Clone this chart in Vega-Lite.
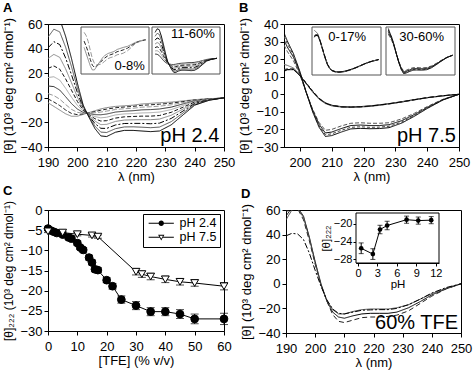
{
"$schema":"https://vega.github.io/schema/vega-lite/v6.json",
"background":"white",
"padding":{"left":2,"top":1,"right":0,"bottom":0},
"config":{
 "font":"Liberation Sans",
 "view":{"stroke":"black","strokeWidth":1},
 "axis":{"grid":false,"domainColor":"black","tickColor":"black","labelColor":"black","titleColor":"black","labelFontSize":13,"titleFontSize":13,"titleFontWeight":"normal","tickSize":4,"labelPadding":5,"titlePadding":1,"labelFlush":false,"labelFont":"Liberation Sans","titleFont":"Liberation Sans"},
 "title":{"anchor":"start","frame":"bounds","fontSize":13,"fontWeight":"bold","offset":2,"color":"black"},
 "legend":{"strokeColor":"black","padding":3,"labelFontSize":12.5,"symbolSize":36,"rowPadding":1,"fillColor":"white","labelColor":"black","labelOffset":12,"symbolOffset":9}
},
"datasets":{
 "specA":[
  {"x":190,"c0":-4,"c1":-0.9,"c2":3.4,"c3":9.6,"c4":16.5,"c5":23.9,"c6":32.0,"c7":40.6,"c8":49.3,"c9":58},
  {"x":192,"c0":-7,"c1":-3.4,"c2":1.8,"c3":9.1,"c4":17.1,"c5":25.9,"c6":35.3,"c7":45.6,"c8":55.8,"c9":66},
  {"x":194,"c0":-10,"c1":-6.3,"c2":-1.1,"c3":6.3,"c4":14.4,"c5":23.3,"c6":32.9,"c7":43.3,"c8":53.6,"c9":64},
  {"x":196,"c0":-13,"c1":-9.9,"c2":-5.4,"c3":0.9,"c4":7.8,"c5":15.4,"c6":23.5,"c7":32.4,"c8":41.2,"c9":50},
  {"x":198,"c0":-15,"c1":-12.7,"c2":-9.4,"c3":-4.7,"c4":0.5,"c5":6.2,"c6":12.3,"c7":18.8,"c8":25.4,"c9":32},
  {"x":200,"c0":-15,"c1":-13.7,"c2":-11.8,"c3":-9.1,"c4":-6.1,"c5":-2.9,"c6":0.7,"c7":4.4,"c8":8.2,"c9":12},
  {"x":202,"c0":-13.5,"c1":-13.1,"c2":-12.6,"c3":-11.9,"c4":-11.0,"c5":-10.1,"c6":-9.2,"c7":-8.1,"c8":-7.1,"c9":-6},
  {"x":204,"c0":-12,"c1":-12.2,"c2":-12.5,"c3":-12.9,"c4":-13.3,"c5":-13.8,"c6":-14.3,"c7":-14.9,"c8":-15.4,"c9":-16},
  {"x":206,"c0":-10.5,"c1":-11.2,"c2":-12.2,"c3":-13.7,"c4":-15.3,"c5":-17.0,"c6":-18.9,"c7":-20.9,"c8":-23.0,"c9":-25},
  {"x":208,"c0":-9,"c1":-10.1,"c2":-11.6,"c3":-13.8,"c4":-16.3,"c5":-18.9,"c6":-21.8,"c7":-24.8,"c8":-27.9,"c9":-31},
  {"x":210,"c0":-8,"c1":-9.2,"c2":-10.8,"c3":-13.2,"c4":-15.8,"c5":-18.6,"c6":-21.6,"c7":-24.9,"c8":-28.2,"c9":-31.5},
  {"x":213,"c0":-7,"c1":-8.1,"c2":-9.5,"c3":-11.6,"c4":-13.9,"c5":-16.5,"c6":-19.2,"c7":-22.1,"c8":-25.1,"c9":-28},
  {"x":216,"c0":-6.5,"c1":-7.5,"c2":-8.9,"c3":-10.9,"c4":-13.1,"c5":-15.5,"c6":-18.1,"c7":-20.9,"c8":-23.7,"c9":-26.5},
  {"x":219,"c0":-6,"c1":-7.0,"c2":-8.5,"c3":-10.5,"c4":-12.8,"c5":-15.2,"c6":-17.9,"c7":-20.8,"c8":-23.6,"c9":-26.5},
  {"x":222,"c0":-5,"c1":-6.1,"c2":-7.6,"c3":-9.8,"c4":-12.3,"c5":-14.9,"c6":-17.8,"c7":-20.8,"c8":-23.9,"c9":-27},
  {"x":225,"c0":-4.5,"c1":-5.7,"c2":-7.3,"c3":-9.6,"c4":-12.1,"c5":-14.9,"c6":-17.8,"c7":-21.1,"c8":-24.3,"c9":-27.5},
  {"x":228,"c0":-4,"c1":-5.2,"c2":-6.8,"c3":-9.1,"c4":-11.6,"c5":-14.4,"c6":-17.3,"c7":-20.6,"c8":-23.8,"c9":-27},
  {"x":232,"c0":-3.5,"c1":-4.4,"c2":-5.7,"c3":-7.6,"c4":-9.6,"c5":-11.8,"c6":-14.2,"c7":-16.8,"c8":-19.4,"c9":-22},
  {"x":236,"c0":-2.5,"c1":-3.1,"c2":-3.9,"c3":-5.0,"c4":-6.3,"c5":-7.7,"c6":-9.2,"c7":-10.8,"c8":-12.4,"c9":-14},
  {"x":240,"c0":-1.5,"c1":-1.7,"c2":-2.0,"c3":-2.5,"c4":-3.0,"c5":-3.5,"c6":-4.1,"c7":-4.7,"c8":-5.4,"c9":-6},
  {"x":245,"c0":-0.7,"c1":-0.8,"c2":-0.9,"c3":-1.0,"c4":-1.1,"c5":-1.3,"c6":-1.5,"c7":-1.6,"c8":-1.8,"c9":-2},
  {"x":250,"c0":-0.2,"c1":-0.2,"c2":-0.2,"c3":-0.2,"c4":-0.1,"c5":-0.1,"c6":0,"c7":0,"c8":0,"c9":0}
 ],
 "specB":[
  {"x":195,"b0":13,"b1":14,"b2":17,"b3":13.5,"h0":28,"h1":31,"h2":33,"h3":35},
  {"x":196,"b0":14,"b1":14.5,"b2":16.5,"b3":14,"h0":24.5,"h1":27,"h2":29,"h3":30.5},
  {"x":198,"b0":14,"b1":14.5,"b2":15,"b3":14.2,"h0":19,"h1":21,"h2":22,"h3":23},
  {"x":200,"b0":10.5,"b1":11,"b2":11,"b3":10.8,"h0":11,"h1":12,"h2":12.5,"h3":13},
  {"x":202,"b0":6,"b1":6.5,"b2":6,"b3":6.2,"h0":1,"h1":1,"h2":1,"h3":1},
  {"x":204,"b0":1.5,"b1":2,"b2":1.2,"b3":1.6,"h0":-8.5,"h1":-9,"h2":-9.5,"h3":-10},
  {"x":206,"b0":-2.5,"b1":-2.2,"b2":-2.8,"b3":-2.4,"h0":-16,"h1":-17,"h2":-18,"h3":-18.7},
  {"x":208,"b0":-5,"b1":-4.8,"b2":-5.3,"b3":-5,"h0":-20.5,"h1":-22,"h2":-23,"h3":-24},
  {"x":210,"b0":-6.3,"b1":-6.2,"b2":-6.6,"b3":-6.4,"h0":-20,"h1":-21.5,"h2":-22.5,"h3":-23.5},
  {"x":213,"b0":-7,"b1":-7.1,"b2":-7.3,"b3":-7.2,"h0":-18,"h1":-19.5,"h2":-20.5,"h3":-21.5},
  {"x":216,"b0":-7.2,"b1":-7.4,"b2":-7.5,"b3":-7.3,"h0":-16.5,"h1":-17.8,"h2":-18.8,"h3":-19.7},
  {"x":219,"b0":-7,"b1":-7.2,"b2":-7.3,"b3":-7.1,"h0":-16.2,"h1":-17.5,"h2":-18.5,"h3":-19.4},
  {"x":222,"b0":-6.6,"b1":-6.8,"b2":-6.9,"b3":-6.7,"h0":-16.5,"h1":-17.8,"h2":-18.8,"h3":-19.6},
  {"x":225,"b0":-6,"b1":-6.2,"b2":-6.3,"b3":-6.1,"h0":-16.5,"h1":-17.8,"h2":-18.7,"h3":-19.5},
  {"x":228,"b0":-5.3,"b1":-5.5,"b2":-5.5,"b3":-5.4,"h0":-16.2,"h1":-17.3,"h2":-18.2,"h3":-19},
  {"x":232,"b0":-4.2,"b1":-4.4,"b2":-4.4,"b3":-4.3,"h0":-14,"h1":-15,"h2":-15.8,"h3":-16.4},
  {"x":236,"b0":-3,"b1":-3.1,"b2":-3.2,"b3":-3.1,"h0":-10.8,"h1":-11.5,"h2":-12,"h3":-12.5},
  {"x":240,"b0":-1.9,"b1":-2,"b2":-2,"b3":-1.9,"h0":-7,"h1":-7.5,"h2":-7.8,"h3":-8.1},
  {"x":245,"b0":-0.8,"b1":-0.9,"b2":-0.9,"b3":-0.8,"h0":-2.8,"h1":-3,"h2":-3.1,"h3":-3.2},
  {"x":250,"b0":0,"b1":0,"b2":0,"b3":0,"h0":0,"h1":0,"h2":0,"h3":0}
 ],
 "specD":[
  {"x":190,"d1":55,"d2":58,"d3":52,"d4":39},
  {"x":192,"d1":62,"d2":63,"d3":60,"d4":41},
  {"x":194,"d1":62,"d2":61,"d3":61,"d4":40.5},
  {"x":196,"d1":55,"d2":52,"d3":54,"d4":36},
  {"x":198,"d1":38,"d2":35,"d3":37,"d4":25},
  {"x":200,"d1":18,"d2":16,"d3":17,"d4":11},
  {"x":202,"d1":0,"d2":-1,"d3":-1,"d4":-2},
  {"x":204,"d1":-14,"d2":-14,"d3":-13.5,"d4":-13},
  {"x":206,"d1":-23,"d2":-25,"d3":-21,"d4":-20.5},
  {"x":208,"d1":-27,"d2":-30.5,"d3":-24.5,"d4":-24},
  {"x":210,"d1":-28,"d2":-31.5,"d3":-24.5,"d4":-24.5},
  {"x":213,"d1":-26,"d2":-29.5,"d3":-22.5,"d4":-23},
  {"x":216,"d1":-24.5,"d2":-27.5,"d3":-21,"d4":-21.5},
  {"x":219,"d1":-24,"d2":-27,"d3":-20.5,"d4":-21.2},
  {"x":222,"d1":-24,"d2":-27,"d3":-20.5,"d4":-21},
  {"x":225,"d1":-24,"d2":-26.5,"d3":-20.5,"d4":-21},
  {"x":228,"d1":-23,"d2":-25.5,"d3":-19.5,"d4":-20},
  {"x":232,"d1":-19.5,"d2":-22,"d3":-17,"d4":-17},
  {"x":236,"d1":-14.5,"d2":-16,"d3":-12.5,"d4":-12.5},
  {"x":240,"d1":-9,"d2":-10,"d3":-8,"d4":-7.5},
  {"x":245,"d1":-4,"d2":-4,"d3":-3.5,"d4":-3},
  {"x":250,"d1":0,"d2":0,"d3":0,"d4":0}
 ],
 "tfe":[
  {"ph":"pH 2.4","tfe":0,"theta":-4.6,"err":0.3},
  {"ph":"pH 2.4","tfe":1,"theta":-5.1,"err":0.3},
  {"ph":"pH 2.4","tfe":2,"theta":-5.4,"err":0.3},
  {"ph":"pH 2.4","tfe":3,"theta":-5.7,"err":0.3},
  {"ph":"pH 2.4","tfe":5,"theta":-6.1,"err":0.3},
  {"ph":"pH 2.4","tfe":7,"theta":-6.8,"err":0.4},
  {"ph":"pH 2.4","tfe":8,"theta":-7.1,"err":0.4},
  {"ph":"pH 2.4","tfe":10,"theta":-8.2,"err":0.5},
  {"ph":"pH 2.4","tfe":11,"theta":-9.3,"err":0.5},
  {"ph":"pH 2.4","tfe":12,"theta":-9.9,"err":0.5},
  {"ph":"pH 2.4","tfe":14,"theta":-11.8,"err":0.6},
  {"ph":"pH 2.4","tfe":15,"theta":-13,"err":0.6},
  {"ph":"pH 2.4","tfe":16,"theta":-14.7,"err":0.6},
  {"ph":"pH 2.4","tfe":17,"theta":-14.9,"err":0.6},
  {"ph":"pH 2.4","tfe":20,"theta":-17.4,"err":0.6},
  {"ph":"pH 2.4","tfe":22,"theta":-18.9,"err":0.7},
  {"ph":"pH 2.4","tfe":25,"theta":-22.2,"err":0.9},
  {"ph":"pH 2.4","tfe":30,"theta":-23.7,"err":1.0},
  {"ph":"pH 2.4","tfe":35,"theta":-25.2,"err":1.0},
  {"ph":"pH 2.4","tfe":40,"theta":-25.2,"err":1.0},
  {"ph":"pH 2.4","tfe":45,"theta":-25.8,"err":1.1},
  {"ph":"pH 2.4","tfe":50,"theta":-27.0,"err":1.2},
  {"ph":"pH 2.4","tfe":60,"theta":-27.0,"err":1.4},
  {"ph":"pH 7.5","tfe":0,"theta":-5.3,"err":0.3},
  {"ph":"pH 7.5","tfe":5,"theta":-5.6,"err":0.3},
  {"ph":"pH 7.5","tfe":10,"theta":-6.0,"err":0.4},
  {"ph":"pH 7.5","tfe":15,"theta":-6.3,"err":0.4},
  {"ph":"pH 7.5","tfe":17,"theta":-6.6,"err":0.4},
  {"ph":"pH 7.5","tfe":30,"theta":-15.3,"err":0.8},
  {"ph":"pH 7.5","tfe":32,"theta":-15.9,"err":0.8},
  {"ph":"pH 7.5","tfe":35,"theta":-16.5,"err":0.8},
  {"ph":"pH 7.5","tfe":40,"theta":-17.2,"err":0.8},
  {"ph":"pH 7.5","tfe":45,"theta":-17.8,"err":0.8},
  {"ph":"pH 7.5","tfe":50,"theta":-18.1,"err":0.8},
  {"ph":"pH 7.5","tfe":60,"theta":-18.9,"err":0.9}
 ],
 "phD":[
  {"ph":0.5,"theta":-25.5,"err":1.2},
  {"ph":2.3,"theta":-26.8,"err":1.2},
  {"ph":3.4,"theta":-21.3,"err":0.95},
  {"ph":4.5,"theta":-20.4,"err":0.95},
  {"ph":7.5,"theta":-19.1,"err":0.8},
  {"ph":9.3,"theta":-19.3,"err":0.8},
  {"ph":11.3,"theta":-19.2,"err":0.8}
 ]
},
"spacing":0,
"resolve":{"scale":{"color":"independent","strokeDash":"independent","shape":"independent","fill":"independent"}},
"vconcat":[
 {"spacing":2,
  "resolve":{"scale":{"color":"independent","strokeDash":"independent","shape":"independent","fill":"independent"}},
  "hconcat":[
  {"title":"A","width":176,"height":123,
   "resolve":{"scale":{"x":"independent","y":"independent"}},
   "layer":[
    {"data":{"name":"specA"},
     "transform":[{"fold":["c0","c1","c2","c3","c4","c5","c6","c7","c8","c9"],"as":["k","v"]}],
     "mark":{"type":"line","strokeWidth":1,"clip":true},
     "encoding":{
      "x":{"field":"x","type":"quantitative","scale":{"domain":[190,250],"nice":false,"zero":false},"axis":{"values":[190,200,210,220,230,240,250],"title":"λ (nm)"}},
      "y":{"field":"v","type":"quantitative","scale":{"domain":[-40,60],"nice":false,"zero":false},"axis":{"values":[-40,-20,0,20,40,60],"title":"[θ] (10³ deg cm² dmol⁻¹)","labelPadding":2,"titlePadding":4}},
      "detail":{"field":"k"},
      "color":{"field":"k","type":"nominal","legend":null,"scale":{"domain":["c0","c1","c2","c3","c4","c5","c6","c7","c8","c9"],"range":["#888888","#222222","#999999","#333333","#aaaaaa","#111111","#888888","#000000","#555555","#000000"]}},
      "strokeDash":{"field":"k","type":"nominal","legend":null,"scale":{"domain":["c0","c1","c2","c3","c4","c5","c6","c7","c8","c9"],"range":[[1,0],[4,2],[5,2],[1,0],[1,0],[4,2],[1,0],[6,2,2,2],[1,0],[1,0]]}}
     }},
    {"data":{"values":[{}]},
     "mark":{"type":"text","text":"pH 2.4","align":"right","baseline":"alphabetic","fontSize":20,"color":"black"},
     "encoding":{
      "x":{"datum":248.4,"type":"quantitative","scale":{"domain":[190,250],"nice":false,"zero":false},"axis":null},
      "y":{"datum":-36,"type":"quantitative","scale":{"domain":[-40,60],"nice":false,"zero":false},"axis":null}
     }},
    {"layer":[
      {"data":{"values":[{}]},
       "mark":{"type":"rect","fill":"white","stroke":"#555555","strokeWidth":1},
       "encoding":{
        "x":{"datum":187,"type":"quantitative","scale":{"domain":[187,253],"range":[33,101],"nice":false,"zero":false},"axis":null},
        "x2":{"datum":253},
        "y":{"datum":-17,"type":"quantitative","scale":{"domain":[-17,6],"range":[50,3],"nice":false,"zero":false},"axis":null},
        "y2":{"datum":6}
       }},
      {"data":{"name":"specA"},
       "transform":[{"fold":["c0","c1","c2"],"as":["k","v"]}],
       "mark":{"type":"line","strokeWidth":1},
       "encoding":{
        "x":{"field":"x","type":"quantitative","scale":{"domain":[187,253],"range":[33,101],"nice":false,"zero":false},"axis":null},
        "y":{"field":"v","type":"quantitative","scale":{"domain":[-17,6],"range":[50,3],"nice":false,"zero":false},"axis":null},
        "detail":{"field":"k"},
        "color":{"field":"k","type":"nominal","legend":null},
        "strokeDash":{"field":"k","type":"nominal","legend":null}
       }},
      {"data":{"values":[{}]},
       "mark":{"type":"text","text":"0-8%","align":"right","baseline":"alphabetic","fontSize":13,"color":"black"},
       "encoding":{
        "x":{"datum":249,"type":"quantitative","scale":{"domain":[187,253],"range":[33,101],"nice":false,"zero":false},"axis":null},
        "y":{"datum":-15,"type":"quantitative","scale":{"domain":[-17,6],"range":[50,3],"nice":false,"zero":false},"axis":null}
       }}
    ]},
    {"layer":[
      {"data":{"values":[{}]},
       "mark":{"type":"rect","fill":"white","stroke":"#555555","strokeWidth":1},
       "encoding":{
        "x":{"datum":187,"type":"quantitative","scale":{"domain":[187,253],"range":[104,172],"nice":false,"zero":false},"axis":null},
        "x2":{"datum":253},
        "y":{"datum":-35,"type":"quantitative","scale":{"domain":[-35,70],"range":[50,3],"nice":false,"zero":false},"axis":null},
        "y2":{"datum":70}
       }},
      {"data":{"name":"specA"},
       "transform":[{"fold":["c3","c4","c5","c6","c7","c8","c9"],"as":["k","v"]}],
       "mark":{"type":"line","strokeWidth":1},
       "encoding":{
        "x":{"field":"x","type":"quantitative","scale":{"domain":[187,253],"range":[104,172],"nice":false,"zero":false},"axis":null},
        "y":{"field":"v","type":"quantitative","scale":{"domain":[-35,70],"range":[50,3],"nice":false,"zero":false},"axis":null},
        "detail":{"field":"k"},
        "color":{"field":"k","type":"nominal","legend":null},
        "strokeDash":{"field":"k","type":"nominal","legend":null}
       }},
      {"data":{"values":[{}]},
       "mark":{"type":"text","text":"11-60%","align":"right","baseline":"alphabetic","fontSize":13,"color":"black"},
       "encoding":{
        "x":{"datum":248,"type":"quantitative","scale":{"domain":[187,253],"range":[104,172],"nice":false,"zero":false},"axis":null},
        "y":{"datum":45,"type":"quantitative","scale":{"domain":[-35,70],"range":[50,3],"nice":false,"zero":false},"axis":null}
       }}
    ]}
   ]},
  {"title":"B","width":175,"height":123,
   "resolve":{"scale":{"x":"independent","y":"independent"}},
   "layer":[
    {"data":{"name":"specB"},
     "transform":[{"fold":["b0","b1","b2","b3","h0","h1","h2","h3"],"as":["k","v"]}],
     "mark":{"type":"line","strokeWidth":1,"clip":true},
     "encoding":{
      "x":{"field":"x","type":"quantitative","scale":{"domain":[195,250],"nice":false,"zero":false},"axis":{"values":[200,210,220,230,240,250],"title":"λ (nm)"}},
      "y":{"field":"v","type":"quantitative","scale":{"domain":[-30,40],"nice":false,"zero":false},"axis":{"values":[-30,-20,-10,0,10,20,30,40],"title":"[θ] (10³ deg cm² dmol⁻¹)","labelPadding":2,"titlePadding":4}},
      "detail":{"field":"k"},
      "color":{"field":"k","type":"nominal","legend":null,"scale":{"domain":["b0","b1","b2","b3","h0","h1","h2","h3"],"range":["#000000","#333333","#666666","#000000","#555555","#000000","#444444","#000000"]}},
      "strokeDash":{"field":"k","type":"nominal","legend":null,"scale":{"domain":["b0","b1","b2","b3","h0","h1","h2","h3"],"range":[[1,0],[4,2],[1,0],[6,2],[4,2],[1,0],[3,2],[1,0]]}}
     }},
    {"data":{"values":[{}]},
     "mark":{"type":"text","text":"pH 7.5","align":"right","baseline":"alphabetic","fontSize":20,"color":"black"},
     "encoding":{
      "x":{"datum":249,"type":"quantitative","scale":{"domain":[195,250],"nice":false,"zero":false},"axis":null},
      "y":{"datum":-27.1,"type":"quantitative","scale":{"domain":[-30,40],"nice":false,"zero":false},"axis":null}
     }},
    {"layer":[
      {"data":{"values":[{}]},
       "mark":{"type":"rect","fill":"white","stroke":"#555555","strokeWidth":1},
       "encoding":{
        "x":{"datum":193,"type":"quantitative","scale":{"domain":[193,252],"range":[28,97],"nice":false,"zero":false},"axis":null},
        "x2":{"datum":252},
        "y":{"datum":-9,"type":"quantitative","scale":{"domain":[-9,19],"range":[51,3],"nice":false,"zero":false},"axis":null},
        "y2":{"datum":19}
       }},
      {"data":{"name":"specB"},
       "transform":[{"fold":["b0","b1","b2","b3"],"as":["k","v"]}],
       "mark":{"type":"line","strokeWidth":1},
       "encoding":{
        "x":{"field":"x","type":"quantitative","scale":{"domain":[193,252],"range":[28,97],"nice":false,"zero":false},"axis":null},
        "y":{"field":"v","type":"quantitative","scale":{"domain":[-9,19],"range":[51,3],"nice":false,"zero":false},"axis":null},
        "detail":{"field":"k"},
        "color":{"field":"k","type":"nominal","legend":null},
        "strokeDash":{"field":"k","type":"nominal","legend":null}
       }},
      {"data":{"values":[{}]},
       "mark":{"type":"text","text":"0-17%","align":"left","baseline":"alphabetic","fontSize":13,"color":"black"},
       "encoding":{
        "x":{"datum":207,"type":"quantitative","scale":{"domain":[193,252],"range":[28,97],"nice":false,"zero":false},"axis":null},
        "y":{"datum":10.8,"type":"quantitative","scale":{"domain":[-9,19],"range":[51,3],"nice":false,"zero":false},"axis":null}
       }}
    ]},
    {"layer":[
      {"data":{"values":[{}]},
       "mark":{"type":"rect","fill":"white","stroke":"#555555","strokeWidth":1},
       "encoding":{
        "x":{"datum":193,"type":"quantitative","scale":{"domain":[193,252],"range":[102,171],"nice":false,"zero":false},"axis":null},
        "x2":{"datum":252},
        "y":{"datum":-26,"type":"quantitative","scale":{"domain":[-26,37],"range":[51,3],"nice":false,"zero":false},"axis":null},
        "y2":{"datum":37}
       }},
      {"data":{"name":"specB"},
       "transform":[{"fold":["h0","h1","h2","h3"],"as":["k","v"]}],
       "mark":{"type":"line","strokeWidth":1},
       "encoding":{
        "x":{"field":"x","type":"quantitative","scale":{"domain":[193,252],"range":[102,171],"nice":false,"zero":false},"axis":null},
        "y":{"field":"v","type":"quantitative","scale":{"domain":[-26,37],"range":[51,3],"nice":false,"zero":false},"axis":null},
        "detail":{"field":"k"},
        "color":{"field":"k","type":"nominal","legend":null},
        "strokeDash":{"field":"k","type":"nominal","legend":null}
       }},
      {"data":{"values":[{}]},
       "mark":{"type":"text","text":"30-60%","align":"left","baseline":"alphabetic","fontSize":13,"color":"black"},
       "encoding":{
        "x":{"datum":204.3,"type":"quantitative","scale":{"domain":[193,252],"range":[102,171],"nice":false,"zero":false},"axis":null},
        "y":{"datum":18.6,"type":"quantitative","scale":{"domain":[-26,37],"range":[51,3],"nice":false,"zero":false},"axis":null}
       }}
    ]}
   ]}
 ]},
 {"spacing":2,
  "resolve":{"scale":{"color":"independent","strokeDash":"independent","shape":"independent","fill":"independent"}},
  "hconcat":[
  {"title":"C","width":176,"height":121,
   "data":{"name":"tfe"},
   "resolve":{"scale":{"shape":"independent"}},
   "layer":[
    {"mark":{"type":"line","color":"black","strokeWidth":1},
     "encoding":{
      "x":{"field":"tfe","type":"quantitative","scale":{"domain":[0,60],"nice":false},"axis":{"values":[0,10,20,30,40,50,60],"title":"[TFE] (% v/v)"}},
      "y":{"field":"theta","type":"quantitative","scale":{"domain":[-30,0],"nice":false},"axis":{"values":[-30,-25,-20,-15,-10,-5,0],"title":"[θ]₂₂₂ (10³ deg cm² dmol⁻¹)","labelPadding":2,"titlePadding":4,"titleFontSize":12}},
      "detail":{"field":"ph"}
     }},
    {"mark":{"type":"errorbar","ticks":{"size":8,"color":"black"},"rule":{"color":"black","strokeWidth":1},"color":"black"},
     "encoding":{
      "x":{"field":"tfe","type":"quantitative","scale":{"domain":[0,60],"nice":false},"axis":{"values":[0,10,20,30,40,50,60],"title":"[TFE] (% v/v)"}},
      "y":{"field":"theta","type":"quantitative","scale":{"domain":[-30,0],"nice":false},"axis":{"values":[-30,-25,-20,-15,-10,-5,0],"title":"[θ]₂₂₂ (10³ deg cm² dmol⁻¹)","labelPadding":2,"titlePadding":4,"titleFontSize":12}},
      "yError":{"field":"err"}
     }},
    {"mark":{"type":"point","filled":true,"stroke":"black","strokeWidth":1,"size":60,"opacity":1},
     "encoding":{
      "x":{"field":"tfe","type":"quantitative","scale":{"domain":[0,60],"nice":false},"axis":{"values":[0,10,20,30,40,50,60],"title":"[TFE] (% v/v)"}},
      "y":{"field":"theta","type":"quantitative","scale":{"domain":[-30,0],"nice":false},"axis":{"values":[-30,-25,-20,-15,-10,-5,0],"title":"[θ]₂₂₂ (10³ deg cm² dmol⁻¹)","labelPadding":2,"titlePadding":4,"titleFontSize":12}},
      "shape":{"field":"ph","type":"nominal","scale":{"domain":["pH 2.4","pH 7.5"],"range":["circle","triangle-down"]},"legend":null},
      "fill":{"field":"ph","type":"nominal","scale":{"domain":["pH 2.4","pH 7.5"],"range":["black","white"]},"legend":null}
     }},
    {"mark":{"type":"point","filled":true,"fill":"black","strokeWidth":0,"size":36,"opacity":0},
     "encoding":{
      "x":{"field":"tfe","type":"quantitative","scale":{"domain":[0,60],"nice":false},"axis":{"values":[0,10,20,30,40,50,60],"title":"[TFE] (% v/v)"}},
      "y":{"field":"theta","type":"quantitative","scale":{"domain":[-30,0],"nice":false},"axis":{"values":[-30,-25,-20,-15,-10,-5,0],"title":"[θ]₂₂₂ (10³ deg cm² dmol⁻¹)","labelPadding":2,"titlePadding":4,"titleFontSize":12}},
      "shape":{"field":"ph","type":"nominal","scale":{"domain":["pH 2.4","pH 7.5"],"range":["M-4.2,-0.17H-0.8V0.17H-4.2Z M0.8,-0.17H4.2V0.17H0.8Z M0.9,0A0.9,0.9 0 1,1 -0.9,0A0.9,0.9 0 1,1 0.9,0Z","M-4.2,-0.17H-0.57V0.17H-4.2Z M0.57,-0.17H4.2V0.17H0.57Z M-1.05,-0.8L1.05,-0.8L0,1.05Z M-0.58,-0.5L0,0.5L0.58,-0.5Z"]},"legend":{"title":null,"orient":"top-right","offset":4,"symbolOpacity":1,"symbolFillColor":"black","symbolStrokeWidth":0,"symbolStrokeColor":"transparent"}}
     }}
   ]},
  {"title":"D","width":175,"height":123,
   "resolve":{"scale":{"x":"independent","y":"independent"}},
   "layer":[
    {"data":{"name":"specD"},
     "transform":[{"fold":["d1","d2","d3","d4"],"as":["k","v"]}],
     "mark":{"type":"line","strokeWidth":1,"clip":true},
     "encoding":{
      "x":{"field":"x","type":"quantitative","scale":{"domain":[190,250],"nice":false,"zero":false},"axis":{"values":[190,200,210,220,230,240,250],"title":"λ (nm)"}},
      "y":{"field":"v","type":"quantitative","scale":{"domain":[-40,60],"nice":false,"zero":false},"axis":{"values":[-40,-20,0,20,40,60],"title":"[θ] (10³ deg cm² dmol⁻¹)","labelPadding":2,"titlePadding":4}},
      "detail":{"field":"k"},
      "color":{"field":"k","type":"nominal","legend":null,"scale":{"domain":["d1","d2","d3","d4"],"range":["#000000","#222222","#444444","#000000"]}},
      "strokeDash":{"field":"k","type":"nominal","legend":null,"scale":{"domain":["d1","d2","d3","d4"],"range":[[1,0],[5,3],[1,0],[6,2,2,2]]}}
     }},
    {"data":{"values":[{}]},
     "mark":{"type":"text","text":"60% TFE","align":"right","baseline":"alphabetic","fontSize":20,"color":"black"},
     "encoding":{
      "x":{"datum":249,"type":"quantitative","scale":{"domain":[190,250],"nice":false,"zero":false},"axis":null},
      "y":{"datum":-36.5,"type":"quantitative","scale":{"domain":[-40,60],"nice":false,"zero":false},"axis":null}
     }},
    {"layer":[
      {"data":{"values":[{}]},
       "mark":{"type":"rect","fill":"white","stroke":"black","strokeWidth":1},
       "encoding":{
        "x":{"datum":-0.3,"type":"quantitative","scale":{"domain":[-0.3,12.5],"range":[70,153],"nice":false,"zero":false},"axis":{"orient":"bottom","offset":-70,"values":[0,3,6,9,12],"title":"pH","labelFontSize":11,"titleFontSize":11.5,"tickSize":3,"titlePadding":0,"labelPadding":1}},
        "x2":{"datum":12.5},
        "y":{"datum":-28.8,"type":"quantitative","scale":{"domain":[-28.8,-17.6],"range":[53,3],"nice":false,"zero":false},"axis":{"orient":"left","offset":-70,"values":[-28,-24,-20],"title":"[θ]₂₂₂","labelFontSize":11,"titleFontSize":11.5,"titleColor":"black","tickSize":3,"titlePadding":2,"labelPadding":1}},
        "y2":{"datum":-17.6}
       }},
      {"data":{"name":"phD"},
       "mark":{"type":"line","color":"black","strokeWidth":1},
       "encoding":{
        "x":{"field":"ph","type":"quantitative","scale":{"domain":[-0.3,12.5],"range":[70,153],"nice":false,"zero":false},"axis":{"orient":"bottom","offset":-70,"values":[0,3,6,9,12],"title":"pH","labelFontSize":11,"titleFontSize":11.5,"tickSize":3,"titlePadding":0,"labelPadding":1}},
        "y":{"field":"theta","type":"quantitative","scale":{"domain":[-28.8,-17.6],"range":[53,3],"nice":false,"zero":false},"axis":{"orient":"left","offset":-70,"values":[-28,-24,-20],"title":"[θ]₂₂₂","labelFontSize":11,"titleFontSize":11.5,"titleColor":"black","tickSize":3,"titlePadding":2,"labelPadding":1}}
       }},
      {"data":{"name":"phD"},
       "mark":{"type":"errorbar","ticks":{"size":5,"color":"black"},"rule":{"color":"black","strokeWidth":1},"color":"black"},
       "encoding":{
        "x":{"field":"ph","type":"quantitative","scale":{"domain":[-0.3,12.5],"range":[70,153],"nice":false,"zero":false},"axis":{"orient":"bottom","offset":-70,"values":[0,3,6,9,12],"title":"pH","labelFontSize":11,"titleFontSize":11.5,"tickSize":3,"titlePadding":0,"labelPadding":1}},
        "y":{"field":"theta","type":"quantitative","scale":{"domain":[-28.8,-17.6],"range":[53,3],"nice":false,"zero":false},"axis":{"orient":"left","offset":-70,"values":[-28,-24,-20],"title":"[θ]₂₂₂","labelFontSize":11,"titleFontSize":11.5,"titleColor":"black","tickSize":3,"titlePadding":2,"labelPadding":1}},
        "yError":{"field":"err"}
       }},
      {"data":{"name":"phD"},
       "mark":{"type":"circle","color":"black","size":22,"opacity":1},
       "encoding":{
        "x":{"field":"ph","type":"quantitative","scale":{"domain":[-0.3,12.5],"range":[70,153],"nice":false,"zero":false},"axis":{"orient":"bottom","offset":-70,"values":[0,3,6,9,12],"title":"pH","labelFontSize":11,"titleFontSize":11.5,"tickSize":3,"titlePadding":0,"labelPadding":1}},
        "y":{"field":"theta","type":"quantitative","scale":{"domain":[-28.8,-17.6],"range":[53,3],"nice":false,"zero":false},"axis":{"orient":"left","offset":-70,"values":[-28,-24,-20],"title":"[θ]₂₂₂","labelFontSize":11,"titleFontSize":11.5,"titleColor":"black","tickSize":3,"titlePadding":2,"labelPadding":1}}
       }}
    ]}
   ]}
 ]}
]
}
